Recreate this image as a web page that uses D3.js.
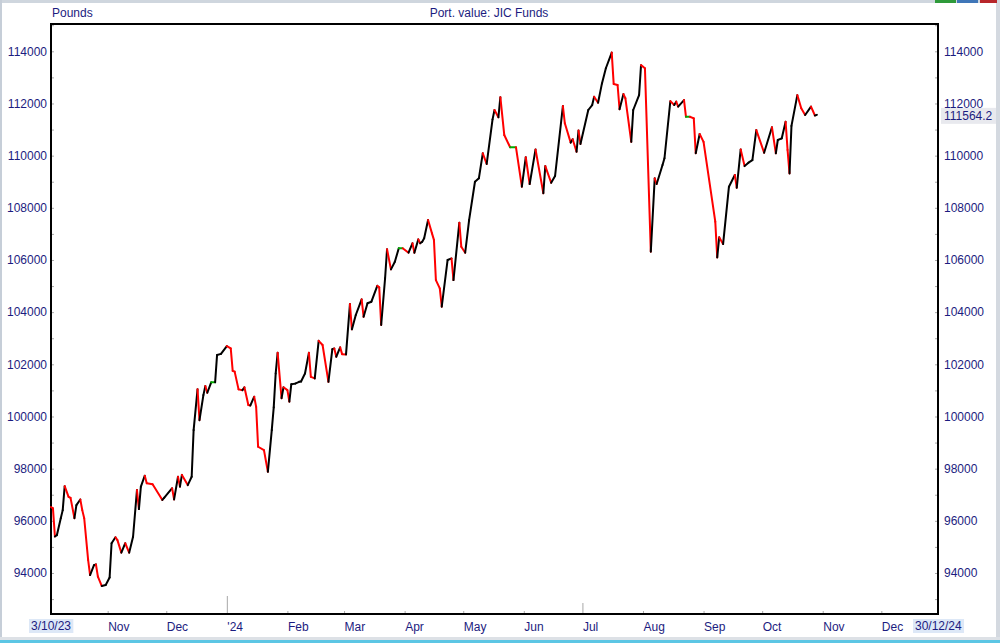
<!DOCTYPE html>
<html>
<head>
<meta charset="utf-8">
<title>Port. value: JIC Funds</title>
<script src="https://d3js.org/d3.v7.min.js"></script>
<style>
  body { margin: 0; background: #fff; }
  svg { display: block; font-family: Arial, "Liberation Sans", sans-serif; }
  .lbl { fill: #1c1c80; font-size: 12px; }
</style>
</head>
<body>
<script>
// portfolio value
const dates = [
  "2023-10-03","2023-10-04","2023-10-05","2023-10-06","2023-10-08","2023-10-09","2023-10-10","2023-10-12",
  "2023-10-13","2023-10-15","2023-10-16","2023-10-18","2023-10-19","2023-10-20","2023-10-22","2023-10-23",
  "2023-10-25","2023-10-26","2023-10-27","2023-10-29","2023-10-31","2023-11-02","2023-11-03","2023-11-05",
  "2023-11-06","2023-11-08","2023-11-10","2023-11-12","2023-11-14","2023-11-16","2023-11-17","2023-11-18",
  "2023-11-20","2023-11-21","2023-11-24","2023-11-29","2023-11-30","2023-12-04","2023-12-05","2023-12-07",
  "2023-12-08","2023-12-09","2023-12-12","2023-12-14","2023-12-15","2023-12-17","2023-12-18","2023-12-20",
  "2023-12-21","2023-12-22","2023-12-24","2023-12-26","2023-12-27","2023-12-29","2024-01-01","2024-01-03",
  "2024-01-04","2024-01-05","2024-01-07","2024-01-09","2024-01-10","2024-01-12","2024-01-13","2024-01-15",
  "2024-01-16","2024-01-17","2024-01-20","2024-01-22","2024-01-24","2024-01-25","2024-01-26","2024-01-27",
  "2024-01-29","2024-01-30","2024-02-01","2024-02-02","2024-02-03","2024-02-05","2024-02-07","2024-02-08",
  "2024-02-10","2024-02-12","2024-02-13","2024-02-15","2024-02-17","2024-02-19","2024-02-22","2024-02-24",
  "2024-02-25","2024-02-26","2024-02-28","2024-02-29","2024-03-02","2024-03-04","2024-03-05","2024-03-07",
  "2024-03-10","2024-03-11","2024-03-13","2024-03-15","2024-03-18","2024-03-19","2024-03-20","2024-03-22",
  "2024-03-23","2024-03-25","2024-03-27","2024-03-29","2024-03-31","2024-04-03","2024-04-05","2024-04-06",
  "2024-04-08","2024-04-09","2024-04-10","2024-04-11","2024-04-13","2024-04-15","2024-04-16","2024-04-17",
  "2024-04-19","2024-04-20","2024-04-23","2024-04-25","2024-04-26","2024-04-29","2024-04-30","2024-05-02",
  "2024-05-04","2024-05-07","2024-05-09","2024-05-11","2024-05-13","2024-05-16","2024-05-17","2024-05-19",
  "2024-05-20","2024-05-22","2024-05-25","2024-05-28","2024-05-31","2024-06-02","2024-06-04","2024-06-07",
  "2024-06-11","2024-06-12","2024-06-15","2024-06-17","2024-06-21","2024-06-22","2024-06-25","2024-06-26",
  "2024-06-28","2024-06-29","2024-06-30","2024-07-04","2024-07-06","2024-07-07","2024-07-09","2024-07-11",
  "2024-07-13","2024-07-16","2024-07-17","2024-07-19","2024-07-20","2024-07-22","2024-07-23","2024-07-26",
  "2024-07-27","2024-07-30","2024-07-31","2024-08-02","2024-08-05","2024-08-07","2024-08-08","2024-08-11",
  "2024-08-12","2024-08-15","2024-08-17","2024-08-18","2024-08-19","2024-08-22","2024-08-23","2024-08-25",
  "2024-08-27","2024-08-28","2024-08-30","2024-09-01","2024-09-07","2024-09-08","2024-09-09","2024-09-11",
  "2024-09-14","2024-09-17","2024-09-18","2024-09-20","2024-09-22","2024-09-24","2024-09-26","2024-09-28",
  "2024-10-02","2024-10-06","2024-10-08","2024-10-09","2024-10-11","2024-10-13","2024-10-14","2024-10-15",
  "2024-10-16","2024-10-19","2024-10-21","2024-10-23","2024-10-26","2024-10-28","2024-10-29"
];
const values = [
  96530,96480,95400,95450,96100,96410,97330,96920,
  96880,96100,96600,96820,96410,96100,94500,93920,
  94300,94330,93860,93500,93540,93830,95140,95370,
  95260,94780,95140,94780,95390,97180,96450,97310,
  97730,97440,97400,96800,96890,97250,96820,97690,
  97310,97760,97370,97690,99480,101040,99860,100820,
  101170,100910,101310,101310,102360,102400,102700,102610,
  101750,101720,101040,101010,101120,100440,100420,100760,
  100370,98840,98710,97880,99480,100350,101650,102440,
  100700,101120,101010,100570,101240,101260,101330,101340,
  101650,102440,101520,101460,102900,102740,101330,102580,
  102610,102290,102650,102390,102380,104310,103340,103890,
  104490,103820,104340,104400,105010,104950,103510,105300,
  106410,105640,105930,106450,106450,106280,106640,106280,
  106790,106640,106700,106830,107530,107020,106770,105230,
  104910,104210,106000,106060,105230,107430,106510,106280,
  107530,109000,109130,110090,109680,111390,111750,111470,
  112240,110790,110320,110320,108810,109940,108910,110240,
  108560,109600,108960,109220,111900,111240,110500,110630,
  110150,110960,110450,111750,111940,112260,112030,112770,
  113350,113950,112750,112710,111780,112360,112200,110530,
  111750,112320,113470,113350,106320,109130,108910,109640,
  109900,112090,111940,112070,111880,112130,111490,111490,
  111430,110090,110830,110530,107470,106100,106870,106610,
  108810,109260,108770,110240,109600,109730,109830,110980,
  110110,111090,110090,110600,110660,111300,110220,109320,
  111140,112320,111820,111560,111880,111540,111564.2
];
const yLabelTicks = [94000,96000,98000,100000,102000,104000,106000,108000,110000,112000,114000];
const yMinorTicks = [93000,95000,97000,99000,101000,103000,105000,107000,109000,111000,113000,115000];
const monthTicks = ["2023-11-01","2023-12-01","2024-01-01","2024-02-01","2024-03-01","2024-04-01","2024-05-01",
                    "2024-06-01","2024-07-01","2024-08-01","2024-09-01","2024-10-01","2024-11-01","2024-12-01"];
const monthNames = ["Nov","Dec","'24","Feb","Mar","Apr","May","Jun","Jul","Aug","Sep","Oct","Nov","Dec"];
const startLabel = "3/10/23", endLabel = "30/12/24";
const lastLabel = "111564.2";

const parse = d3.timeParse("%Y-%m-%d");
const data = dates.map((d, i) => ({date: parse(d), value: values[i]}));

const W = 1000, H = 643;
const pLeft = 51, pRight = 938, pTop = 24, pBottom = 614;
const navy = "#1c1c80";

const svg = d3.select("body").append("svg").attr("width", W).attr("height", H);

// window chrome
svg.append("rect").attr("x", 0).attr("y", 0).attr("width", W).attr("height", H).attr("fill", "#fff");
svg.append("rect").attr("x", 0).attr("y", 0).attr("width", W).attr("height", 3).attr("fill", "#cfd6de");
svg.append("rect").attr("x", 0).attr("y", 0).attr("width", 2).attr("height", H).attr("fill", "#c6ced8");
svg.append("rect").attr("x", 996).attr("y", 0).attr("width", 4).attr("height", H).attr("fill", "#d4d9e0");
svg.append("rect").attr("x", 0).attr("y", 637).attr("width", W).attr("height", 3).attr("fill", "#dde1e6");
svg.append("rect").attr("x", 0).attr("y", 640).attr("width", W).attr("height", 3).attr("fill", "#5cc6e4");
svg.append("rect").attr("x", 935).attr("y", 0).attr("width", 21).attr("height", 3).attr("fill", "#2f9a3a");
svg.append("rect").attr("x", 957).attr("y", 0).attr("width", 21).attr("height", 3).attr("fill", "#3f76b8");
svg.append("rect").attr("x", 980).attr("y", 0).attr("width", 17).attr("height", 3).attr("fill", "#b8262a");

const x = d3.scaleTime().domain([parse("2023-10-03"), parse("2024-12-30")]).range([pLeft, pRight]);
const y = d3.scaleLinear().domain([92428, 115047]).range([pBottom, pTop]);

// titles
svg.append("text").attr("class", "lbl").attr("x", 52).attr("y", 17).text("Pounds");
svg.append("text").attr("class", "lbl").attr("x", 489).attr("y", 17).attr("text-anchor", "middle")
  .text("Port. value: JIC Funds");

// y axes, ticks pointing into the plot
function styleAxis(g) {
  g.select(".domain").remove();
  g.selectAll(".tick line").attr("stroke", "#a8a8a8");
  g.selectAll(".tick text").attr("class", "lbl").attr("fill", navy).style("font-size", "12px");
  g.attr("font-family", null).attr("font-size", null);
}
svg.append("g").attr("transform", "translate(" + pLeft + ",0)")
  .call(d3.axisLeft(y).tickValues(yLabelTicks).tickSize(-3).tickPadding(4).tickFormat(d3.format("d")))
  .call(styleAxis);
svg.append("g").attr("transform", "translate(" + pLeft + ",0)")
  .call(d3.axisLeft(y).tickValues(yMinorTicks).tickSize(-3).tickFormat(""))
  .call(styleAxis);
svg.append("g").attr("transform", "translate(" + pRight + ",0)")
  .call(d3.axisRight(y).tickValues(yLabelTicks).tickSize(-3).tickPadding(6).tickFormat(d3.format("d")))
  .call(styleAxis);
svg.append("g").attr("transform", "translate(" + pRight + ",0)")
  .call(d3.axisRight(y).tickValues(yMinorTicks).tickSize(-3).tickFormat(""))
  .call(styleAxis);

// x axis, month ticks with labels starting at the tick
const xAxis = svg.append("g").attr("transform", "translate(0," + pBottom + ")")
  .call(d3.axisBottom(x).tickValues(monthTicks.map(parse)).tickSize(-3).tickPadding(8)
    .tickFormat((d, i) => monthNames[i]))
  .call(styleAxis);
xAxis.selectAll(".tick text").attr("text-anchor", "start").attr("x", 0);
xAxis.selectAll(".tick line").attr("y2", d => d.getMonth() === 0 ? -18 : (d.getMonth() === 6 ? -11 : -3));

// end date labels with highlight
function boxLabel(tx, ty, txt) {
  const t = svg.append("text").attr("class", "lbl").attr("x", tx).attr("y", ty).text(txt);
  const b = t.node().getBBox();
  svg.insert("rect", "text").attr("x", b.x - 2).attr("y", b.y).attr("width", b.width + 4)
    .attr("height", b.height).attr("fill", "#dde8f7");
  t.raise();
}
boxLabel(31, 630, startLabel);
boxLabel(915, 630, endLabel);

// plot frame
svg.append("path")
  .attr("d", "M" + pLeft + "," + pTop + "H" + pRight + "V" + pBottom + "H" + pLeft + "Z")
  .attr("fill", "none").attr("stroke", "#000").attr("stroke-width", 2);

// value line, coloured by direction of each step
const line = d3.line().x(d => x(d.date)).y(d => y(d.value));
const plot = svg.append("g");
for (let i = 1; i < data.length; i++) {
  const a = data[i - 1], b = data[i];
  const col = b.value > a.value ? "#000" : (b.value < a.value ? "#f00" : "#0a0");
  plot.append("path").datum([a, b]).attr("d", line)
    .attr("fill", "none").attr("stroke", col).attr("stroke-width", 2).attr("stroke-linecap", "round");
}

// last value marker on the right axis
const lastY = y(values[values.length - 1]);
const lt = svg.append("text").attr("class", "lbl").attr("x", 944).attr("y", lastY + 5).text(lastLabel);
const lb = lt.node().getBBox();
svg.insert("rect", "text").attr("x", pRight + 3).attr("y", lb.y - 1).attr("width", 996 - pRight - 3)
  .attr("height", lb.height + 2).attr("fill", "#e8e9ee");
lt.raise();
</script>
</body>
</html>
